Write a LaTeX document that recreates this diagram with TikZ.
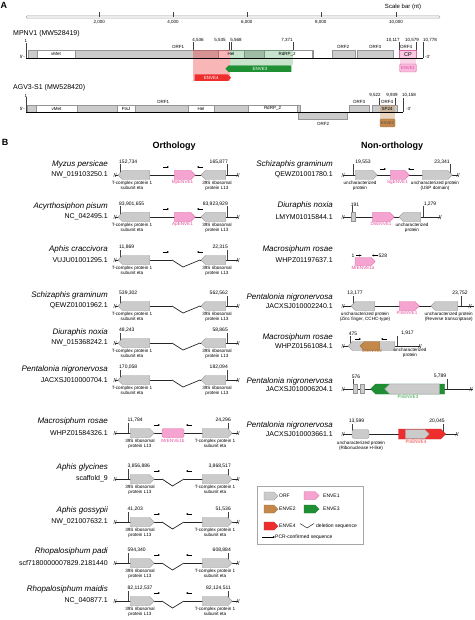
\documentclass[tikz,border=0pt]{standalone}
\usepackage{fontspec}
\setmainfont{Liberation Sans}
\usetikzlibrary{shapes.symbols,arrows.meta}

\definecolor{orffill}{HTML}{CBCBCB}
\definecolor{orfline}{HTML}{959595}
\definecolor{pinkfill}{HTML}{F5A3D0}
\definecolor{pinkline}{HTML}{D9669F}
\definecolor{pinktext}{HTML}{E5489C}
\definecolor{brownfill}{HTML}{C4894A}
\definecolor{browntext}{HTML}{B5783A}
\definecolor{greenfill}{HTML}{1E9033}
\definecolor{greentext}{HTML}{2FA040}
\definecolor{redfill}{HTML}{EE2D2D}
\definecolor{redtext}{HTML}{EE3B3B}

\begin{document}
\begin{tikzpicture}[x=1pt, y=-1pt,
  seqline/.style = {line width=0.7, black!85},
  genome/.style = {line width=0.9, black},
  delseq/.style = {line width=0.7, black!85, line join=round},
  orfbox/.style = {draw=orfline, fill=orffill, line width=0.35},
  dombox/.style = {draw=orfline, fill=white, line width=0.35},
  gene/.style = {signal, inner sep=0, outer sep=0, minimum height=9, line width=0.35},
  orfW/.style = {gene, signal to=west, draw=orfline, fill=orffill},
  orfE/.style = {gene, signal to=east, draw=orfline, fill=orffill},
  pinkE/.style = {gene, signal to=east, draw=pinkline, fill=pinkfill},
  brownW/.style = {gene, signal to=west, draw=brownfill!80!black, fill=brownfill},
  greenW/.style = {gene, signal to=west, draw=greenfill!80!black, fill=greenfill},
  redE/.style = {gene, signal to=east, draw=redfill!85!black, fill=redfill},
  posmark/.style = {line width=0.35, black!75},
  primer/.style = {-{Stealth[length=2.2pt,width=2pt]}, line width=0.45},
  brkmark/.style = {line width=0.4, black!85},
  brk/.pic = {\draw[brkmark] (-1.3,2) -- (-0.3,-2) (0.3,2) -- (1.3,-2);},
  numlbl/.style = {font=\fontsize{5}{6}\selectfont, inner sep=0, anchor=south},
  desclbl/.style = {font=\fontsize{4.6}{5}\selectfont, align=center, inner sep=0, anchor=north},
  spname/.style = {font=\fontsize{8}{9}\selectfont\itshape, anchor=east, inner sep=0},
  acclbl/.style = {font=\fontsize{7}{8}\selectfont, anchor=east, inner sep=0},
  tinylbl/.style = {font=\fontsize{4.5}{5}\selectfont, inner sep=0},
  leglbl/.style = {font=\fontsize{5}{6}\selectfont, inner sep=0, anchor=west},
  headlbl/.style = {font=\fontsize{9}{10}\selectfont\bfseries, inner sep=0}
]
  \useasboundingbox (0,0) rectangle (474,620);

  % ---------- panel A ----------
  \node[headlbl] (pa) at (4,5) {A};
  \node[font=\fontsize{6}{7}\selectfont, inner sep=0] (scttl) at (403,7) {Scale bar (nt)};
  \draw[rounded corners=1.5, fill=gray!15, draw=gray!60, line width=0.4] (26,15.5) rectangle (440,18.5);
  \foreach \x/\t [count=\k] in {99.3/{2,000},173/{4,000},246.7/{6,000},320.7/{8,000},396/{10,000}} {
    \draw[posmark] (\x,12) -- (\x,17);
    \node[tinylbl] (tk\k) at (\x,22.5) {\t};
  }

  % MPNV1
  \node[font=\fontsize{7}{8}\selectfont, inner sep=0, anchor=west] (mpnv) at (13,34) {MPNV1 (MW528419)};
  \draw[orfbox] (28,50.5) rectangle (313,58);
  \draw[dombox] (37,50.5) rectangle (75,58);
  \draw[dombox] (218,50.5) rectangle (244,58);
  \draw[dombox] (264,50.5) rectangle (312,58);
  \draw[orfbox] (332,50.5) rectangle (355,58);
  \draw[orfbox] (357,50.5) rectangle (393,58);
  \draw[draw=pinkline, fill=pinkfill!60, line width=0.35] (399.5,50.5) rectangle (416.5,58);
  \fill[redfill, fill opacity=0.35] (193,50.5) rectangle (229.5,81);
  \fill[greenfill, fill opacity=0.25] (229.5,50.5) rectangle (293,65.5);
  \fill[pinkfill, fill opacity=0.45] (400,58) rectangle (416,64);
  \draw[genome] (26,58.5) -- (423,58.5);
  \node[tinylbl] (vmet1) at (56,54.2) {vMet};
  \node[tinylbl] (hel1) at (231,54.2) {Hel};
  \node[tinylbl] (rdrp1) at (287,54.2) {RdRP\_2};
  \node[font=\fontsize{5.5}{6}\selectfont, inner sep=0] (cp1) at (408,54.2) {CP};
  \node[tinylbl] (orf1a) at (178,47) {ORF1};
  \node[tinylbl] (orf2a) at (343,47) {ORF2};
  \node[tinylbl] (orf3a) at (375,47) {ORF3};
  \node[tinylbl] (orf4a) at (406,47) {ORF4};
  \node[tinylbl, anchor=east] (five1) at (25,57) {5'-};
  \node[tinylbl, anchor=west] (three1) at (425,57) {-3'};
  \draw[posmark] (26,43) -- (26,58.5) (193,42.5) -- (193,50.5) (229.5,42.5) -- (229.5,50.5)
    (231,42.5) -- (231,50.5) (293,42.5) -- (293,50.5) (399.5,42.5) -- (399.5,50.5)
    (416.5,42.5) -- (416.5,50.5) (423,42.5) -- (423,58.5);
  \foreach \x/\t [count=\k] in {26/1,198/{4,536},220/{5,535},236/{5,568},287/{7,371},393/{10,117},412/{10,579},430/{10,778}}
    \node[tinylbl] (ma\k) at (\x,40.5) {\t};
  \node[greenW, minimum width=66, minimum height=6.5, draw=none, font=\fontsize{4.5}{5}\selectfont, text=white] (enve3) at (260,68.7) {ENVE3};
  \node[redE, minimum width=36.5, minimum height=6.5, draw=none, font=\fontsize{4.5}{5}\selectfont, text=white] (enve4) at (211.2,77.7) {ENVE4};
  \draw[draw=pinkline, fill=pinkfill!75, line width=0.35, rounded corners=1.2] (399.5,64) rectangle (416.5,72);
  \node[font=\fontsize{4.3}{5}\selectfont, text=pinktext, inner sep=0] (enve1a) at (408,68) {ENVE1};

  % AGV3-S1
  \node[font=\fontsize{7}{8}\selectfont, inner sep=0, anchor=west] (agv) at (13,88) {AGV3-S1 (MW528420)};
  \draw[orfbox] (27,105) rectangle (300,112);
  \draw[dombox] (36,105) rectangle (77,112);
  \draw[dombox] (117,105) rectangle (135,112);
  \draw[dombox] (188,105) rectangle (214,112);
  \draw[dombox] (248,105) rectangle (297,112);
  \draw[orfbox] (298,112) rectangle (347,119.5);
  \draw[orfbox] (349,105) rectangle (369,112);
  \draw[orfbox] (372,105) rectangle (397,112);
  \fill[brownfill, fill opacity=0.35] (380,105) rectangle (395,119);
  \draw[genome] (26,112) -- (403,112);
  \node[tinylbl] (vmet2) at (56.5,108.5) {vMet};
  \node[tinylbl] (ftsj2) at (126,108.5) {FtsJ};
  \node[tinylbl] (hel2) at (201,108.5) {Hel};
  \node[tinylbl] (rdrp2) at (272.5,108.5) {RdRP\_2};
  \node[tinylbl] (sp24) at (387,108.5) {SP24};
  \node[tinylbl] (orf1b) at (163,101.5) {ORF1};
  \node[tinylbl] (orf2b) at (323,123.5) {ORF2};
  \node[tinylbl] (orf3b) at (359,102) {ORF3};
  \node[tinylbl] (orf4b) at (387,101.5) {ORF4};
  \node[tinylbl, anchor=east] (five2) at (25,109) {5'-};
  \node[tinylbl, anchor=west] (three2) at (406,109) {-3'};
  \draw[posmark] (26,97.5) -- (26,112) (379.5,98) -- (379.5,105) (395,98) -- (395,105) (403,98) -- (403,112);
  \foreach \x/\t [count=\k] in {26/1,375/{9,522},392/{9,939},409/{10,158}}
    \node[tinylbl] (mb\k) at (\x,95.5) {\t};
  \draw[draw=brownfill!80!black, fill=brownfill, line width=0.35, rounded corners=1.2] (380,119) rectangle (395,127);
  \node[font=\fontsize{4}{5}\selectfont, text=black!70, inner sep=0] (enve2a) at (387.5,123) {ENVE2};

  % ---------- panel B ----------
  \node[headlbl] (pb) at (5,142) {B};
  \node[headlbl] (orth) at (174,146) {Orthology};
  \node[headlbl] (northo) at (392,146) {Non-orthology};

  % orthologous loci, T-complex first
  \foreach \y/\spn/\acc/\nl/\nr [count=\i] in {
    175/Myzus persicae/NW\_019103250.1/{152,734}/{165,877},
    217/Acyrthosiphon pisum/NC\_042495.1/{83,901,655}/{83,923,929},
    260/Aphis craccivora/VUJU01001295.1/{11,869}/{22,315},
    306/Schizaphis graminum/QEWZ01001962.1/{539,302}/{562,562},
    343/Diuraphis noxia/NW\_015368242.1/{48,243}/{58,865},
    380/Pentalonia nigronervosa/JACXSJ010000704.1/{170,058}/{182,094}}
  {
    \node[spname] (sp\i) at (108,\y-10.5) {\spn};
    \node[acclbl] (ac\i) at (108,\y) {\acc};
    \draw[seqline] (115,\y) -- (172,\y) (200,\y) -- (238,\y);
    \pic at (115,\y) {brk};
    \pic at (238,\y) {brk};
    \draw[posmark] (120,\y) -- (120,\y-10.5) (227,\y) -- (227,\y-10.5);
    \node[orfW, minimum width=32] (tc\i) at (136,\y) {};
    \node[orfW, minimum width=25] (rb\i) at (215.5,\y) {};
    \node[numlbl, anchor=south west] (nl\i) at (119,\y-10.5) {\nl};
    \node[numlbl, anchor=south east] (nr\i) at (228,\y-10.5) {\nr};
    \node[desclbl] (dl\i) at (132,\y+5.5) {T-complex protein 1\\subunit eta};
    \node[desclbl] (dr\i) at (217,\y+5.5) {39S ribosomal\\protein L13};
  }
  \foreach \y/\lab [count=\i] in {175/MpENVE1, 217/ApENVE1} {
    \draw[seqline] (172,\y) -- (200,\y);
    \node[pinkE, minimum width=21] (pe\i) at (182.5,\y) {};
    \node[desclbl, text=pinktext] (pl\i) at (182.5,\y+5.5) {\lab};
  }
  \foreach \y in {175,217,260} {
    \draw[primer] (163,\y-8) -- (169,\y-8);
    \draw[primer] (203,\y-8) -- (197,\y-8);
  }
  \foreach \y in {260,306,343,380}
    \draw[delseq] (172,\y) -- (183,\y+7) -- (200,\y);

  % orthologous loci, 39S first
  \foreach \y/\spn/\acc/\nl/\nr [count=\i from 7] in {
    433/Macrosiphum rosae/WHPZ01584326.1/{11,784}/{24,296},
    479/Aphis glycines/scaffold\_9/{3,856,886}/{3,868,517},
    522/Aphis gossypii/NW\_021007632.1/{41,203}/{51,536},
    563/Rhopalosiphum padi/scf7180000007829.2181440/{594,340}/{608,884},
    601/Rhopalosiphum maidis/NC\_040877.1/{82,112,537}/{82,124,511}}
  {
    \node[spname] (sp\i) at (108,\y-11.5) {\spn};
    \node[acclbl] (ac\i) at (108,\y) {\acc};
    \draw[seqline] (115,\y) -- (162,\y) (184,\y) -- (238,\y);
    \pic at (115,\y) {brk};
    \pic at (238,\y) {brk};
    \draw[posmark] (128,\y) -- (128,\y-10.5) (228,\y) -- (228,\y-10.5);
    \node[orfE, minimum width=24] (rb\i) at (140,\y) {};
    \node[orfE, minimum width=30] (tc\i) at (215,\y) {};
    \node[numlbl, anchor=south west] (nl\i) at (127.5,\y-10.5) {\nl};
    \node[numlbl, anchor=south east] (nr\i) at (231,\y-10.5) {\nr};
    \draw[primer] (154,\y-8) -- (160,\y-8);
    \draw[primer] (192,\y-8) -- (186,\y-8);
    \node[desclbl] (dl\i) at (140,\y+5.5) {39S ribosomal\\protein L13};
    \node[desclbl] (dr\i) at (215,\y+5.5) {T-complex protein 1\\subunit eta};
  }
  \draw[seqline] (162,433) -- (184,433);
  \draw[draw=pinkline, fill=pinkfill, line width=0.35, rounded corners=1.5] (162,428.5) rectangle (184,437.5);
  \node[desclbl, text=pinktext] (pl7) at (173,438.5) {MrENVE1b};
  \foreach \y in {479,522,563,601}
    \draw[delseq] (162,\y) -- (172.5,\y+7) -- (184,\y);

  % ---------- non-orthologous loci ----------
  % Schizaphis graminum
  \node[spname] (spr1) at (333,164) {Schizaphis graminum};
  \node[acclbl] (acr1) at (333,175) {QEWZ01001780.1};
  \draw[seqline] (343,175) -- (458,175);
  \pic at (343,175) {brk};
  \pic at (458,175) {brk};
  \draw[posmark] (353,175) -- (353,164.5) (450,175) -- (450,164.5);
  \node[orfE, minimum width=22] (u1a) at (364,175) {};
  \node[pinkE, minimum width=19] (sg1) at (397.5,175) {};
  \node[orfE, minimum width=30] (u1b) at (435,175) {};
  \node[numlbl] (n1a) at (363,164.5) {19,553};
  \node[numlbl] (n1b) at (442,164.5) {23,341};
  \draw[primer] (380,169) -- (386,169);
  \draw[primer] (414,169) -- (408,169);
  \node[desclbl] (d1a) at (360,180.5) {uncharacterized\\protein};
  \node[desclbl, text=pinktext] (d1b) at (397.5,180.5) {SgENVE1};
  \node[desclbl] (d1c) at (435,180.5) {uncharacterized protein\\(USP domain)};

  % Diuraphis noxia
  \node[spname] (spr2) at (333,205) {Diuraphis noxia};
  \node[acclbl] (acr2) at (333,217) {LMYM01015844.1};
  \draw[seqline] (343,217) -- (440,217);
  \pic at (343,217) {brk};
  \pic at (440,217) {brk};
  \draw[posmark] (352,217) -- (352,206.5) (423,217) -- (423,206.5);
  \draw[orfbox] (351,212.5) rectangle (355,221.5);
  \node[pinkE, minimum width=22] (dn2) at (381,217) {};
  \node[orfW, minimum width=22] (u2a) at (412,217) {};
  \node[numlbl] (n2a) at (355,206.5) {191};
  \node[numlbl] (n2b) at (430,206.5) {1,279};
  \node[desclbl, text=pinktext] (d2a) at (381,222.5) {DnENVE1};
  \node[desclbl] (d2b) at (412,222.5) {uncharacterized\\protein};

  % Macrosiphum rosae, ENVE1a
  \node[spname] (spr3) at (333,249) {Macrosiphum rosae};
  \node[acclbl] (acr3) at (333,260) {WHPZ01197637.1};
  \node[pinkE, minimum width=20, minimum height=8] (mr3) at (363,261.5) {};
  \node[numlbl, anchor=east] (n3a) at (354.5,255.5) {1};
  \draw[primer] (355.5,255.5) -- (361.5,255.5);
  \draw[primer] (378,255.5) -- (372,255.5);
  \node[numlbl, anchor=west] (n3b) at (378.5,255.5) {528};
  \node[desclbl, text=pinktext] (d3a) at (363,266) {MrENVE1a};

  % Pentalonia nigronervosa, ENVE1
  \node[spname] (spr4) at (333,297) {Pentalonia nigronervosa};
  \node[acclbl] (acr4) at (333,306) {JACXSJ010002240.1};
  \draw[seqline] (343,306) -- (474,306);
  \pic at (343,306) {brk};
  \pic at (470,306) {brk};
  \draw[posmark] (353,306) -- (353,295.5) (461,306) -- (461,295.5);
  \node[orfW, minimum width=24] (u4a) at (365,306) {};
  \node[pinkE, minimum width=20] (pn4) at (407,306) {};
  \node[orfW, minimum width=27] (u4b) at (446.5,306) {};
  \node[numlbl] (n4a) at (355,295.5) {13,177};
  \node[numlbl] (n4b) at (460,295.5) {23,752};
  \node[desclbl] (d4a) at (365,311.5) {uncharacterized protein\\(Zinc finger, CCHC-type)};
  \node[desclbl, text=pinktext] (d4b) at (407,311.5) {PnENVE1};
  \node[desclbl, anchor=north east] (d4c) at (473,311.5) {uncharacterized protein\\(Reverse transcriptase)};

  % Macrosiphum rosae, ENVE2
  \node[spname] (spr5) at (333,337) {Macrosiphum rosae};
  \node[acclbl] (acr5) at (333,346) {WHPZ01561084.1};
  \draw[seqline] (343,346) -- (420,346);
  \pic at (343,346) {brk};
  \pic at (420,346) {brk};
  \draw[posmark] (350,346) -- (350,335.5) (397,346) -- (397,335.5);
  \node[orfW, minimum width=47] (u5a) at (373.5,346) {};
  \node[brownW, minimum width=20] (mr5) at (372,346) {};
  \draw[primer] (355,339) -- (361,339);
  \draw[primer] (387,339) -- (381,339);
  \node[numlbl] (n5a) at (353,335.5) {475};
  \node[numlbl] (n5b) at (407.5,335.5) {1,917};
  \node[desclbl, text=browntext] (d5a) at (372,349.5) {MrENVE2};
  \node[desclbl] (d5b) at (410,348) {uncharacterized\\protein};

  % Pentalonia nigronervosa, ENVE3
  \node[spname] (spr6) at (333,381) {Pentalonia nigronervosa};
  \node[acclbl] (acr6) at (333,389) {JACXSJ010006204.1};
  \draw[seqline] (343,389) -- (473,389);
  \pic at (343,389) {brk};
  \pic at (471,389) {brk};
  \draw[posmark] (353,389) -- (353,378.5) (447,389) -- (447,378.5);
  \draw[orfbox] (353,384.5) rectangle (357,393.5);
  \draw[orfbox] (360,384.5) rectangle (364,393.5);
  \node[greenW, minimum width=74, minimum height=10] (pn6) at (410,389) {};
  \node[orfW, minimum width=55, minimum height=10] (u6a) at (414.5,389) {};
  \node[numlbl] (n6a) at (356,378.5) {576};
  \node[numlbl] (n6b) at (440,378.5) {5,789};
  \node[desclbl, text=greentext] (d6a) at (408,395) {PnENVE3};

  % Pentalonia nigronervosa, ENVE4
  \node[spname] (spr7) at (333,425) {Pentalonia nigronervosa};
  \node[acclbl] (acr7) at (333,434) {JACXSJ010003661.1};
  \draw[seqline] (343,434) -- (457,434);
  \pic at (343,434) {brk};
  \pic at (457,434) {brk};
  \draw[posmark] (352,434) -- (352,423.5) (443,434) -- (443,423.5);
  \draw[orfbox, rounded corners=1.5] (352,429.5) rectangle (369,438.5);
  \node[redE, minimum width=47, minimum height=10] (pn7) at (419.5,434) {};
  \node[orfE, minimum width=24] (u7a) at (415,434) {};
  \node[numlbl] (n7a) at (356.5,423.5) {13,599};
  \node[numlbl] (n7b) at (437,423.5) {20,045};
  \node[desclbl] (d7a) at (361,440.5) {uncharacterized protein\\(Ribonuclease H-like)};
  \node[desclbl, text=redtext] (d7b) at (416,440.5) {PnENVE4};

  % ---------- legend ----------
  \draw[draw=gray!70, line width=0.5] (257,486) rectangle (363,544);
  \node[orfE, minimum width=14, minimum height=8] (lgorf) at (269,496) {};
  \node[leglbl] (tgorf) at (279,496) {ORF};
  \node[pinkE, minimum width=15, minimum height=8] (lge1) at (309.5,495.5) {};
  \node[leglbl] (tge1) at (323,495.5) {ENVE1};
  \node[gene, signal to=east, draw=brownfill!80!black, fill=brownfill, minimum width=14, minimum height=8] (lge2) at (269,509) {};
  \node[leglbl] (tge2) at (279,509) {ENVE2};
  \node[gene, signal to=east, draw=greenfill!80!black, fill=greenfill, minimum width=15, minimum height=8] (lge3) at (309.5,509) {};
  \node[leglbl] (tge3) at (323,509) {ENVE3};
  \node[redE, minimum width=14, minimum height=8] (lge4) at (269,526) {};
  \node[leglbl] (tge4) at (279,526) {ENVE4};
  \draw[delseq, line width=0.5] (300,523.5) -- (307,528) -- (314,523.5);
  \node[leglbl] (tgdel) at (316,526) {deletion sequence};
  \coordinate (pcrs) at (262,537);
  \node[leglbl] (tgpcr) at (275,537) {PCR-confirmed sequence};
  \draw[primer] (pcrs) -- (tgpcr.west);
\end{tikzpicture}
\end{document}
